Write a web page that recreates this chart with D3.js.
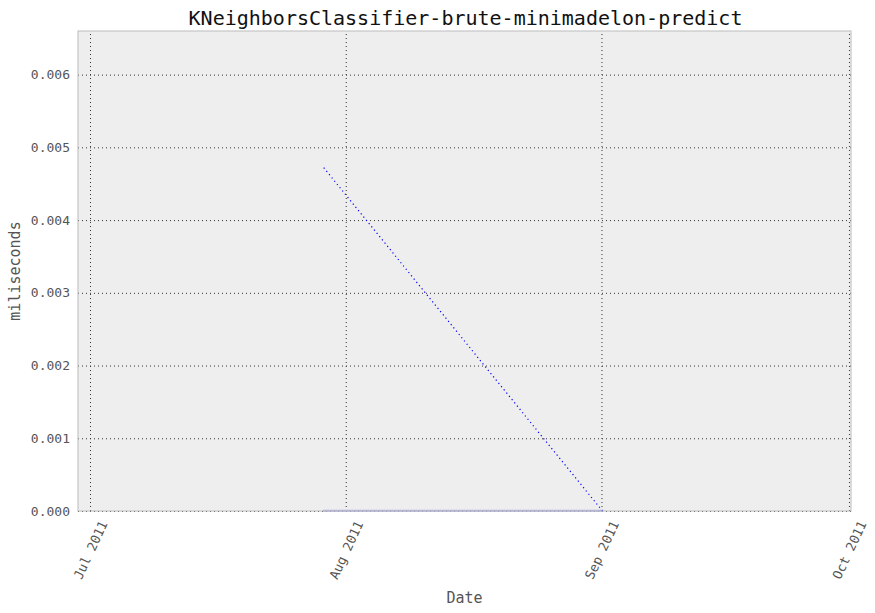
<!DOCTYPE html>
<html>
<head>
<meta charset="utf-8">
<script src="https://cdn.jsdelivr.net/npm/d3@7"></script>
<style>
  body { margin: 0; background: #fff; }
  text { font-family: "DejaVu Sans Mono", monospace; }
</style>
</head>
<body>
<svg id="chart" width="875" height="613"></svg>
<script>
// data
var dates = ['2011-07-29T08:00', '2011-09-01T03:00'];
var values = [0.00472, 0.0];
var bandLow = [0.0, 0.0];
var bandHigh = [0.000008, 0.000008];
var xTicks = ['2011-07-01', '2011-08-01', '2011-09-01', '2011-10-01'];
var yTicks = [0, 0.001, 0.002, 0.003, 0.004, 0.005, 0.006];

var parse = d3.isoParse;
var points = dates.map(function(d, i) {
    return {date: parse(d), value: values[i], lo: bandLow[i], hi: bandHigh[i]};
});

var svg = d3.select('#chart');
var padding = {t: 31, r: 24, b: 102, l: 78};
var width = 875 - padding.l - padding.r;
var height = 613 - padding.t - padding.b;

var xScale = d3.scaleTime()
    .domain([parse('2011-06-29T13:00'), parse('2011-10-01T06:00')])
    .range([0, width]);
var yScale = d3.scaleLinear().domain([0, 0.0066]).range([height, 0]);

var chartG = svg.append('g')
    .attr('transform', 'translate(' + [padding.l, padding.t] + ')');

chartG.append('rect')
    .attr('width', width).attr('height', height)
    .attr('fill', '#eeeeee');

// grid
var xG = chartG.append('g')
    .attr('transform', 'translate(0,' + height + ')')
    .call(d3.axisBottom(xScale)
        .tickValues(xTicks.map(parse))
        .tickSize(-height)
        .tickFormat(d3.timeFormat('%b %Y')));
var yG = chartG.append('g')
    .call(d3.axisLeft(yScale)
        .tickValues(yTicks)
        .tickSize(-width)
        .tickFormat(d3.format('.3f')));

[xG, yG].forEach(function(g) {
    g.select('.domain').remove();
    g.selectAll('.tick line')
        .attr('stroke', '#333')
        .attr('stroke-width', 1)
        .attr('stroke-dasharray', '1,3');
    g.selectAll('.tick text')
        .attr('fill', '#555')
        .style('font-size', '13px');
});
yG.selectAll('.tick text').attr('x', -8);
xG.selectAll('.tick text')
    .attr('text-anchor', 'middle')
    .attr('dy', '0.35em')
    .attr('transform', 'translate(0,39) rotate(-65)')
    .attr('x', 0)
    .attr('y', 0);

// band
chartG.append('path')
    .datum(points)
    .attr('fill', '#aab4ff')
    .attr('stroke', '#b0b0e8')
    .attr('stroke-width', 1.5)
    .attr('d', d3.area()
        .x(function(d) { return xScale(d.date); })
        .y0(function(d) { return yScale(d.lo); })
        .y1(function(d) { return yScale(d.hi); }));

// line
chartG.append('path')
    .datum(points)
    .attr('fill', 'none')
    .attr('stroke', '#0000ff')
    .attr('stroke-width', 1.2)
    .attr('stroke-dasharray', '1.2,3')
    .attr('d', d3.line()
        .x(function(d) { return xScale(d.date); })
        .y(function(d) { return yScale(d.value); }));

// frame
chartG.append('rect')
    .attr('width', width).attr('height', height)
    .attr('fill', 'none')
    .attr('stroke', '#bcbcbc')
    .attr('stroke-width', 1);

// labels
svg.append('text')
    .text('KNeighborsClassifier-brute-minimadelon-predict')
    .attr('x', padding.l + width / 2 + 1).attr('y', 25)
    .attr('text-anchor', 'middle')
    .style('font-size', '20px')
    .attr('fill', '#111');
svg.append('text')
    .text('Date')
    .attr('x', padding.l + width / 2).attr('y', 603)
    .attr('text-anchor', 'middle')
    .style('font-size', '15px')
    .attr('fill', '#555');
svg.append('text')
    .text('miliseconds')
    .attr('transform', 'translate(20,' + (padding.t + height / 2) + ') rotate(-90)')
    .attr('text-anchor', 'middle')
    .style('font-size', '15px')
    .attr('fill', '#555');
</script>
</body>
</html>
